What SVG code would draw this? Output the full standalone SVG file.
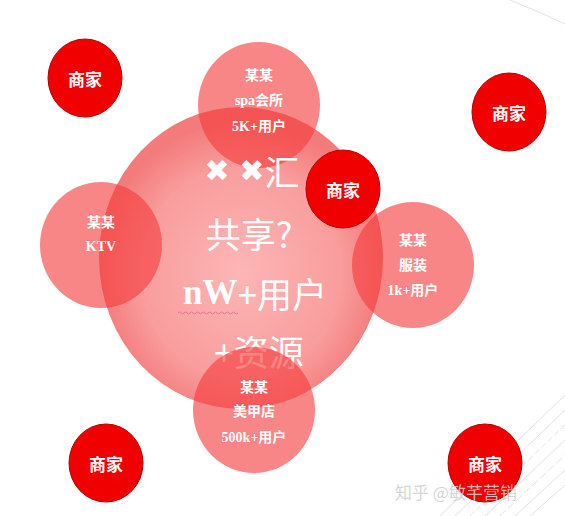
<svg xmlns="http://www.w3.org/2000/svg" width="565" height="516" viewBox="0 0 565 516">
  <defs>
    <radialGradient id="bigGrad" cx="0.5" cy="0.55" r="0.5">
      <stop offset="0" stop-color="#fcb6b6"/>
      <stop offset="0.7" stop-color="#f99d9d"/>
      <stop offset="1" stop-color="#f47b7b"/>
    </radialGradient>
    <style>
      .big { fill: url(#bigGrad); }
      .sub { fill: #f53c3c; fill-opacity: 0.62; }
      .biz { fill: #f00000; stroke: #b30000; stroke-width: 1; }
      .t { fill: #ffffff; text-anchor: middle; dominant-baseline: central; font-family: "Liberation Serif", "Noto Sans CJK SC", serif; font-weight: bold; }
      .small { font-size: 14px; }
      .bizt { font-size: 17px; font-family: "Noto Sans CJK SC", sans-serif; font-weight: bold; }
      .huge { font-size: 35px; font-weight: normal; font-family: "Noto Sans CJK SC", sans-serif; }
      .deco { stroke: #d9d9d9; stroke-width: 0.8; fill: none; }
    </style>
  </defs>
  <rect width="565" height="516" fill="#ffffff"/>
  <g id="decoration">
    <path class="deco" d="M510 0 Q540 12 565 24"/>
    <line class="deco" x1="440" y1="516" x2="565" y2="395"/>
    <line class="deco" x1="455" y1="516" x2="565" y2="410"/>
    <line class="deco" x1="470" y1="516" x2="565" y2="425" stroke-dasharray="6 3"/>
    <line class="deco" x1="485" y1="516" x2="565" y2="440"/>
    <line class="deco" x1="500" y1="516" x2="565" y2="455" stroke-dasharray="8 3"/>
    <line class="deco" x1="515" y1="516" x2="565" y2="470"/>
    <line class="deco" x1="530" y1="516" x2="565" y2="485"/>
  </g>
  <g id="center">
    <ellipse class="big" cx="241" cy="258" rx="142" ry="151"/>
  </g>
  <g id="spa">
    <ellipse class="sub" cx="259" cy="105" rx="61" ry="63"/>
    <text class="t small" x="259" y="75">某某</text>
    <text class="t small" x="259" y="100">spa会所</text>
    <text class="t small" x="259" y="126">5K+用户</text>
  </g>
  <g id="ktv">
    <ellipse class="sub" cx="101" cy="245" rx="61" ry="63"/>
    <text class="t small" x="101" y="222">某某</text>
    <text class="t small" x="101" y="246">KTV</text>
  </g>
  <g id="fuzhuang">
    <ellipse class="sub" cx="413" cy="265" rx="61" ry="63"/>
    <text class="t small" x="413" y="240">某某</text>
    <text class="t small" x="413" y="265">服装</text>
    <text class="t small" x="413" y="290">1k+用户</text>
  </g>
  <g id="center-text">
    <text class="t huge" x="252" y="170"><tspan font-family="DejaVu Sans" font-size="30">✖ ✖</tspan>汇</text>
    <text class="t huge" x="249" y="232">共享?</text>
    <text class="t huge" x="255" y="292"><tspan font-family="Liberation Serif" font-weight="bold">nW</tspan>+用户</text>
    <path d="M178 313 q1.5 -2 3 0 t3 0 t3 0 t3 0 t3 0 t3 0 t3 0 t3 0 t3 0 t3 0 t3 0 t3 0 t3 0 t3 0 t3 0 t3 0 t3 0 t3 0 t3 0 t3 0 " fill="none" stroke="#d96a8a" stroke-width="0.8"/>
    <text class="t huge" x="259" y="350">+资源</text>
  </g>
  <g id="meijia">
    <ellipse class="sub" cx="254" cy="410" rx="61" ry="63"/>
    <text class="t small" x="254" y="387">某某</text>
    <text class="t small" x="254" y="411">美甲店</text>
    <text class="t small" x="254" y="437">500k+用户</text>
  </g>
  <g id="biz1">
    <ellipse class="biz" cx="85" cy="78" rx="37" ry="39"/>
    <text class="t bizt" x="85" y="78">商家</text>
  </g>
  <g id="biz2">
    <ellipse class="biz" cx="509" cy="112" rx="37" ry="39"/>
    <text class="t bizt" x="509" y="112">商家</text>
  </g>
  <g id="biz3">
    <ellipse class="biz" cx="343" cy="189" rx="37" ry="39"/>
    <text class="t bizt" x="343" y="189">商家</text>
  </g>
  <g id="biz4">
    <ellipse class="biz" cx="106" cy="463" rx="37" ry="39"/>
    <text class="t bizt" x="106" y="463">商家</text>
  </g>
  <g id="biz5">
    <ellipse class="biz" cx="485" cy="463" rx="37" ry="39"/>
    <text class="t bizt" x="485" y="463">商家</text>
  </g>
  <g id="connectors"></g>
  <g id="watermark">
    <text x="456" y="491" text-anchor="middle" dominant-baseline="central" font-family="Noto Sans CJK SC, sans-serif" font-size="17" fill="#d0d0d0" fill-opacity="0.9">知乎 @敏芊营销</text>
  </g>
</svg>
